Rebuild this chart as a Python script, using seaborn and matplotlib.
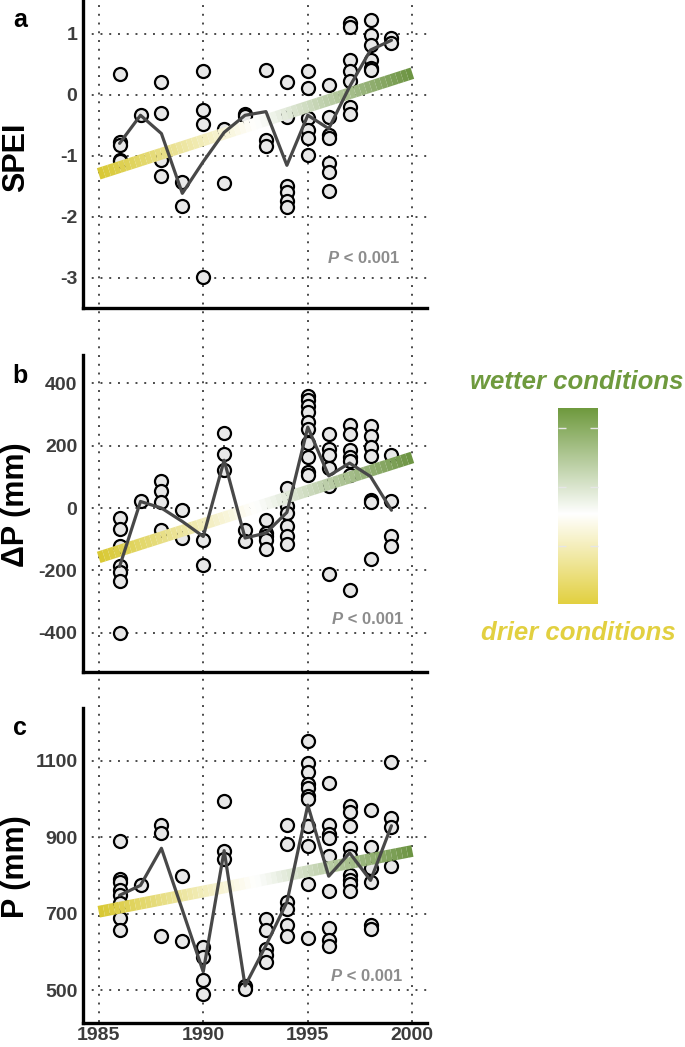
import numpy as np
import pandas as pd
import matplotlib
matplotlib.use("Agg")
import matplotlib.pyplot as plt
from matplotlib.collections import LineCollection
from matplotlib.colors import LinearSegmentedColormap
import seaborn as sns

# Data (years 1986-1999)
YEARS = list(range(1986, 2000))

spei_pts = [
    [0.34, -0.78, -0.83, -1.07, -1.09],
    [-0.34],
    [0.21, -0.31, -1.07, -1.34],
    [-1.43, -1.83],
    [0.38, -0.26, -0.49, -2.99],
    [-0.56, -1.45],
    [-0.32, -0.36],
    [0.41, -0.75, -0.85],
    [0.21, -0.37, -1.50, -1.60, -1.75, -1.85],
    [0.38, 0.10, -0.39, -0.58, -0.72, -0.99],
    [0.15, -0.37, -0.67, -0.72, -1.13, -1.27, -1.58],
    [1.17, 1.11, 0.57, 0.38, 0.23, -0.21, -0.32],
    [1.22, 0.97, 0.81, 0.57, 0.43, 0.40],
    [0.92, 0.84],
]
spei_line = [-0.80, -0.34, -0.64, -1.62, -1.10, -0.62, -0.34, -0.28, -1.16, -0.34, -0.56, 0.13, 0.73, 0.89]
spei_trend = [-1.30, 0.35]

dp_pts = [
    [-32, -67, -123, -187, -206, -235, -400],
    [21],
    [85, 53, 18, -71],
    [-5, -96],
    [-101, -183],
    [240, 173, 121],
    [-69, -107],
    [-37, -80, -91, -101, -131],
    [64, 5, -16, -59, -91, -114],
    [359, 345, 327, 306, 277, 253, 208, 165, 114, 107],
    [237, 189, 171, 128, 69, -211],
    [267, 238, 187, 165, 149, 107, -261],
    [263, 231, 195, 167, 27, 18, -162],
    [171, 21, -91, -123],
]
dp_line = [-187, 21, 0, -43, -91, 153, -96, -80, -14, 259, 103, 144, 101, -7]
dp_trend = [-158, 162]

p_pts = [
    [889, 791, 783, 761, 748, 729, 689, 658],
    [774],
    [932, 910, 642],
    [798, 628],
    [613, 587, 526, 489],
    [996, 863, 842],
    [511, 503],
    [685, 657, 607, 591, 574],
    [932, 883, 730, 711, 670, 642],
    [1152, 1094, 1071, 1039, 1028, 1009, 1000, 930, 877, 778, 637],
    [1042, 932, 909, 897, 852, 758, 663, 630, 616],
    [981, 967, 930, 871, 852, 800, 787, 778, 758],
    [972, 874, 819, 784, 671, 659],
    [1096, 950, 928, 826],
]
p_line = [748, 774, 871, 710, 548, 865, 511, 617, 730, 984, 798, 859, 787, 930]
p_trend = [705, 864]

TREND_X = [1985, 2000]
XTICKS = [1985, 1990, 1995, 2000]

YELLOW = "#d8c832"
GREEN = "#6b9340"
band_cmap = LinearSegmentedColormap.from_list("dw", [YELLOW, "#ffffff", GREEN])
bar_cmap = LinearSegmentedColormap.from_list(
    "bar", [(0.0, "#e2d040"), (0.46, "#ffffff"), (1.0, "#6f9a3e")])

sns.set_theme(style="white")
plt.rcParams["font.family"] = ["Liberation Sans", "DejaVu Sans"]
plt.rcParams["font.weight"] = "bold"

W, H = 685, 1047
fig = plt.figure(figsize=(W / 100, H / 100), dpi=100)


def px_axes(x0, y0, x1, y1):
    return fig.add_axes([x0 / W, 1 - y1 / H, (x1 - x0) / W, (y1 - y0) / H])


XLIM = (1984.25, 2000.7)

# vertical grid lines run through all panels
bg = px_axes(83, 0, 427, 1022)
bg.set_xlim(XLIM)
bg.set_ylim(0, 1)
bg.axis("off")
for xv in XTICKS:
    bg.axvline(xv, color="#4a4a4a", lw=1.4, ls=(0, (1, 3.5)))

panels = [
    dict(box=(83, 0, 427, 308), ylim=(-3.5, 1.55), yticks=[-3, -2, -1, 0, 1],
         pts=spei_pts, line=spei_line, trend=spei_trend, letter="a",
         label="SPEI", lab_y=157, let_y=20, p_pos=(0.92, 0.162)),
    dict(box=(83, 355, 427, 672), ylim=(-525, 490), yticks=[-400, -200, 0, 200, 400],
         pts=dp_pts, line=dp_line, trend=dp_trend, letter="b",
         label="ΔP (mm)", lab_y=505, let_y=376, p_pos=(0.93, 0.167)),
    dict(box=(83, 708, 427, 1023), ylim=(414, 1238), yticks=[500, 700, 900, 1100],
         pts=p_pts, line=p_line, trend=p_trend, letter="c",
         label="P (mm)", lab_y=867, let_y=728, p_pos=(0.927, 0.148)),
]

for i, pn in enumerate(panels):
    ax = px_axes(*pn["box"])
    ax.patch.set_alpha(0)
    ax.set_xlim(XLIM)
    ax.set_ylim(pn["ylim"])
    for yv in pn["yticks"]:
        ax.axhline(yv, color="#4a4a4a", lw=1.4, ls=(0, (1, 3.5)), zorder=0)

    df = pd.DataFrame([(y, v) for y, vals in zip(YEARS, pn["pts"]) for v in vals],
                      columns=["year", "value"])
    sns.scatterplot(data=df, x="year", y="value", ax=ax, s=88, color="#e8e8e8",
                    edgecolor="black", linewidth=1.6, zorder=2)

    # gradient trend band
    t = np.linspace(0, 1, 61)
    tx = TREND_X[0] + t * (TREND_X[1] - TREND_X[0])
    ty = pn["trend"][0] + t * (pn["trend"][1] - pn["trend"][0])
    pts = np.column_stack([tx, ty]).reshape(-1, 1, 2)
    segs = np.concatenate([pts[:-1], pts[1:]], axis=1)
    lc = LineCollection(segs, cmap=band_cmap, linewidths=8.5, capstyle="butt", zorder=3)
    lc.set_array((t[:-1] + t[1:]) / 2)
    lc.set_clim(0, 1)
    ax.add_collection(lc)

    sns.lineplot(x=YEARS, y=pn["line"], ax=ax, color="#484848", lw=2.3, zorder=4)

    sns.despine(ax=ax)
    for s in ["left", "bottom"]:
        ax.spines[s].set_linewidth(2.4)
        ax.spines[s].set_color("black")
    ax.set_yticks(pn["yticks"])
    ax.set_yticklabels([str(v) for v in pn["yticks"]])
    ax.tick_params(axis="y", length=3, width=1.2, color="#555555", labelsize=14,
                   labelcolor="#3c3c3c", pad=1)
    if i == 2:
        ax.set_xticks(XTICKS)
        ax.tick_params(axis="x", length=0, labelsize=14, labelcolor="#3c3c3c", pad=3)
    else:
        ax.set_xticks([])
    ax.set_xlabel("")
    ax.set_ylabel("")
    for lab in ax.get_xticklabels() + ax.get_yticklabels():
        lab.set_fontweight("bold")

    txt = ax.text(pn["p_pos"][0], pn["p_pos"][1], " < 0.001", transform=ax.transAxes,
                  ha="right", va="center", fontsize=12, color="#8c8c8c", fontweight="bold")
    ax.annotate("P", xy=(0, 0.5), xycoords=txt, ha="right", va="center", fontsize=12,
                color="#8c8c8c", fontweight="bold", fontstyle="italic")

    fig.text(16 / W, 1 - pn["lab_y"] / H, pn["label"], rotation=90, ha="center",
             va="center", fontsize=22, fontweight="bold", color="black")
    fig.text(20 / W, 1 - pn["let_y"] / H, pn["letter"], ha="center", va="center",
             fontsize=18, fontweight="bold", color="black")

# legend colour bar
cax = px_axes(558, 408, 598, 604)
grad = np.linspace(0, 1, 256).reshape(-1, 1)
cax.imshow(grad, aspect="auto", cmap=bar_cmap, origin="lower", extent=(0, 1, 0, 1))
cax.set_xlim(0, 1)
cax.set_ylim(0, 1)
for s in cax.spines.values():
    s.set_visible(False)
cax.set_xticks([])
cax.set_yticks([0.296, 0.597, 0.898])
cax.set_yticklabels([])
cax.tick_params(axis="y", direction="in", left=True, right=True, length=6, width=1,
                color="#e6e6e6")

fig.text(577 / W, 1 - 382 / H, "wetter conditions", ha="center", va="center",
         fontsize=18.5, fontweight="bold", fontstyle="italic", color="#6f9a3e")
fig.text(578 / W, 1 - 633 / H, "drier conditions", ha="center", va="center",
         fontsize=18.5, fontweight="bold", fontstyle="italic", color="#e2d040")

fig.savefig("out.png", dpi=100)
